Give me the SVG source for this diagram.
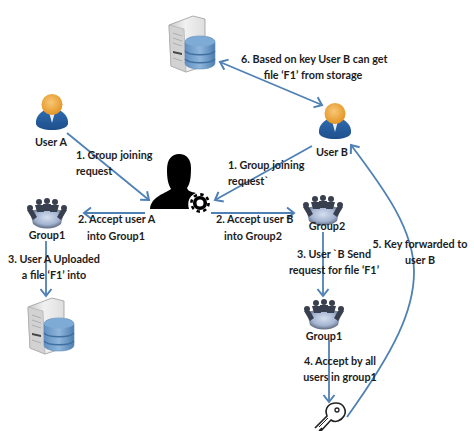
<svg xmlns="http://www.w3.org/2000/svg" width="474" height="431" viewBox="0 0 474 431">
<style>
text{font-family:Lato,"Liberation Sans",sans-serif;font-weight:700;font-size:10.8px;fill:#1c1c1c}
.m{text-anchor:middle}
.c{fill:none;stroke:#4f81b5;stroke-width:1.8}
</style>
<defs>
<filter id="b" x="-10%" y="-10%" width="120%" height="120%"><feGaussianBlur stdDeviation="0.45"/></filter>
<marker id="a" markerUnits="userSpaceOnUse" markerWidth="14" markerHeight="14" refX="11" refY="7" orient="auto-start-reverse" viewBox="0 0 14 14"><path d="M4 1.500L11 7L4 12.500" fill="none" stroke="#4f81b5" stroke-width="2"/></marker>
<linearGradient id="cyl" x1="0" x2="1" y1="0" y2="0"><stop offset="0" stop-color="#5f8fc0"/><stop offset=".5" stop-color="#8fb6dc"/><stop offset="1" stop-color="#4d7eb0"/></linearGradient>
<linearGradient id="case" x1="0" x2="1" y1="0" y2="0"><stop offset="0" stop-color="#c9c9c9"/><stop offset=".45" stop-color="#f1f1f1"/><stop offset="1" stop-color="#dedede"/></linearGradient>
<radialGradient id="head" cx=".45" cy=".4" r=".65"><stop offset="0" stop-color="#f8c878"/><stop offset="1" stop-color="#e2901c"/></radialGradient>
<linearGradient id="suit" x1="0" x2="0" y1="0" y2="1"><stop offset="0" stop-color="#2f6cb0"/><stop offset="1" stop-color="#1e4f8c"/></linearGradient>
<radialGradient id="tbl" cx=".5" cy=".45" r=".6"><stop offset="0" stop-color="#d5dff0"/><stop offset=".6" stop-color="#a3b3cf"/><stop offset="1" stop-color="#4c566c"/></radialGradient>
<g id="server" filter="url(#b)">
<path d="M0 9L24 0L36 3V50L17 56L2 50Z" fill="url(#case)" stroke="#9a9a9a" stroke-width=".8"/>
<path d="M0 9L15 13L17 56L2 50Z" fill="#d2d2d2" stroke="#a8a8a8" stroke-width=".6"/>
<path d="M4 35L13 37V39L4 37Z" fill="#444"/>
<path d="M4 17L13 20M4 22L13 25M4 27L13 30M4 42L13 45" stroke="#a5a5a5" stroke-width=".8"/>
<path d="M16 26C16 18 46 18 46 26V47C46 55 16 55 16 47Z" fill="url(#cyl)" stroke="#5d8cba" stroke-width=".6"/>
<ellipse cx="31" cy="25.500" rx="15" ry="5" fill="#7eaad6"/>
<path d="M16 35C20 40 42 40 46 35M16 43C20 48 42 48 46 43" fill="none" stroke="#3f6f9f" stroke-width="1.300"/>
</g>
<g id="person" filter="url(#b)">
<path d="M0 30C-1 22 6 17 11 15H21C26 17 33 22 32 30C30 38 2 38 0 30Z" fill="url(#suit)"/>
<path d="M13 18L16 29L19 18Z" fill="#e8eef6"/>
<circle cx="16" cy="10.500" r="10.500" fill="url(#head)"/>
</g>
<g id="crown" filter="url(#b)">
<path d="M3 14C12 9 28 9 37 14L34 26C27 32 13 32 6 26Z" fill="url(#tbl)"/>
<g fill="#39414f">
<circle cx="3" cy="10" r="3"/><circle cx="12" cy="4" r="3"/><circle cx="20" cy="3" r="3"/><circle cx="28" cy="4" r="3"/><circle cx="37" cy="10" r="3"/>
<path d="M0 12H6L10 19L6 22ZM8 7H16L17 14H10ZM16 6H24L24 13H16ZM24 7H32L30 14H23ZM34 12H40L34 22L30 19Z"/>
</g>
</g>
</defs>
<g id="connectors">
<path class="c" marker-end="url(#a)" d="M67 133L149 200"/>
<path class="c" marker-end="url(#a)" d="M312 146L215 200"/>
<path class="c" marker-end="url(#a)" d="M145 213H84"/>
<path class="c" marker-end="url(#a)" d="M211 213H294"/>
<path class="c" marker-start="url(#a)" marker-end="url(#a)" d="M220 62L322 105"/>
<path class="c" marker-end="url(#a)" d="M46 241V296"/>
<path class="c" marker-end="url(#a)" d="M323 232V296"/>
<path class="c" marker-end="url(#a)" d="M329 340V402"/>
<path class="c" marker-end="url(#a)" d="M347 417C395 350 414 310 414 272C414 230 385 190 351 145"/>
</g>
<g id="storage-top"><use href="#server" x="169" y="16"/></g>
<g id="storage-bottom"><use href="#server" x="28" y="298"/></g>
<g id="user-a"><use href="#person" x="36" y="94"/><text class="m" x="51" y="146">User A</text></g>
<g id="user-b"><use href="#person" x="319" y="103"/><text class="m" x="332" y="156">User B</text></g>
<g id="manager" filter="url(#b)">
<path d="M150 209C151 197 164 194 171 189C168 184 167 178 167 170C167 159 172 154 179 154C187 154 191 160 191 168C191 178 190 184 187 188C188 191 191 192 196 193C189 196 187 202 189 209Z" fill="#000"/>
<circle cx="200" cy="203" r="5.300" fill="none" stroke="#000" stroke-width="3.600"/>
<circle cx="200" cy="203" r="8.600" fill="none" stroke="#000" stroke-width="2.600" stroke-dasharray="3.400 3.350"/>
</g>
<g id="group1-left"><use href="#crown" x="27" y="198"/><text class="m" x="47" y="239">Group1</text></g>
<g id="group2"><use href="#crown" x="303" y="195"/><text class="m" x="327" y="230">Group2</text></g>
<g id="group1-right"><use href="#crown" x="304" y="299"/><text class="m" x="324" y="340">Group1</text></g>
<g id="key" filter="url(#b)" fill="none" stroke="#222">
<path stroke-width="1.600" d="M315 428L327 416C324 408 329 403 336 403C344 403 347 411 344 416C341 421 335 423 331 420L320 432M319 431L322 428"/>
<path stroke-width="1" d="M319 427L328 418"/>
<circle cx="337" cy="410" r="2" stroke-width="1.300"/>
</g>
<g id="labels">
<text x="76" y="159">1. Group joining</text>
<text x="76" y="175">request</text>
<text x="228" y="169">1. Group joining</text>
<text x="228" y="185">request`</text>
<text x="241" y="63">6. Based on key User B can get</text>
<text class="m" x="313" y="79">file ‘F1’ from storage</text>
<text x="78" y="223">2. Accept user A</text>
<text class="m" x="116" y="240">into Group1</text>
<text x="216" y="223">2. Accept user B</text>
<text class="m" x="253" y="240">into Group2</text>
<text x="8" y="263">3. User A Uploaded</text>
<text class="m" x="54" y="279">a file ‘F1’ into</text>
<text class="m" x="334" y="258">3. User `B Send</text>
<text class="m" x="334" y="274">request for file ‘F1’</text>
<text class="m" x="420" y="248">5. Key forwarded to</text>
<text class="m" x="420" y="264">user B</text>
<text class="m" x="340" y="365">4. Accept by all</text>
<text class="m" x="340" y="381">users in group1</text>
</g>
</svg>
